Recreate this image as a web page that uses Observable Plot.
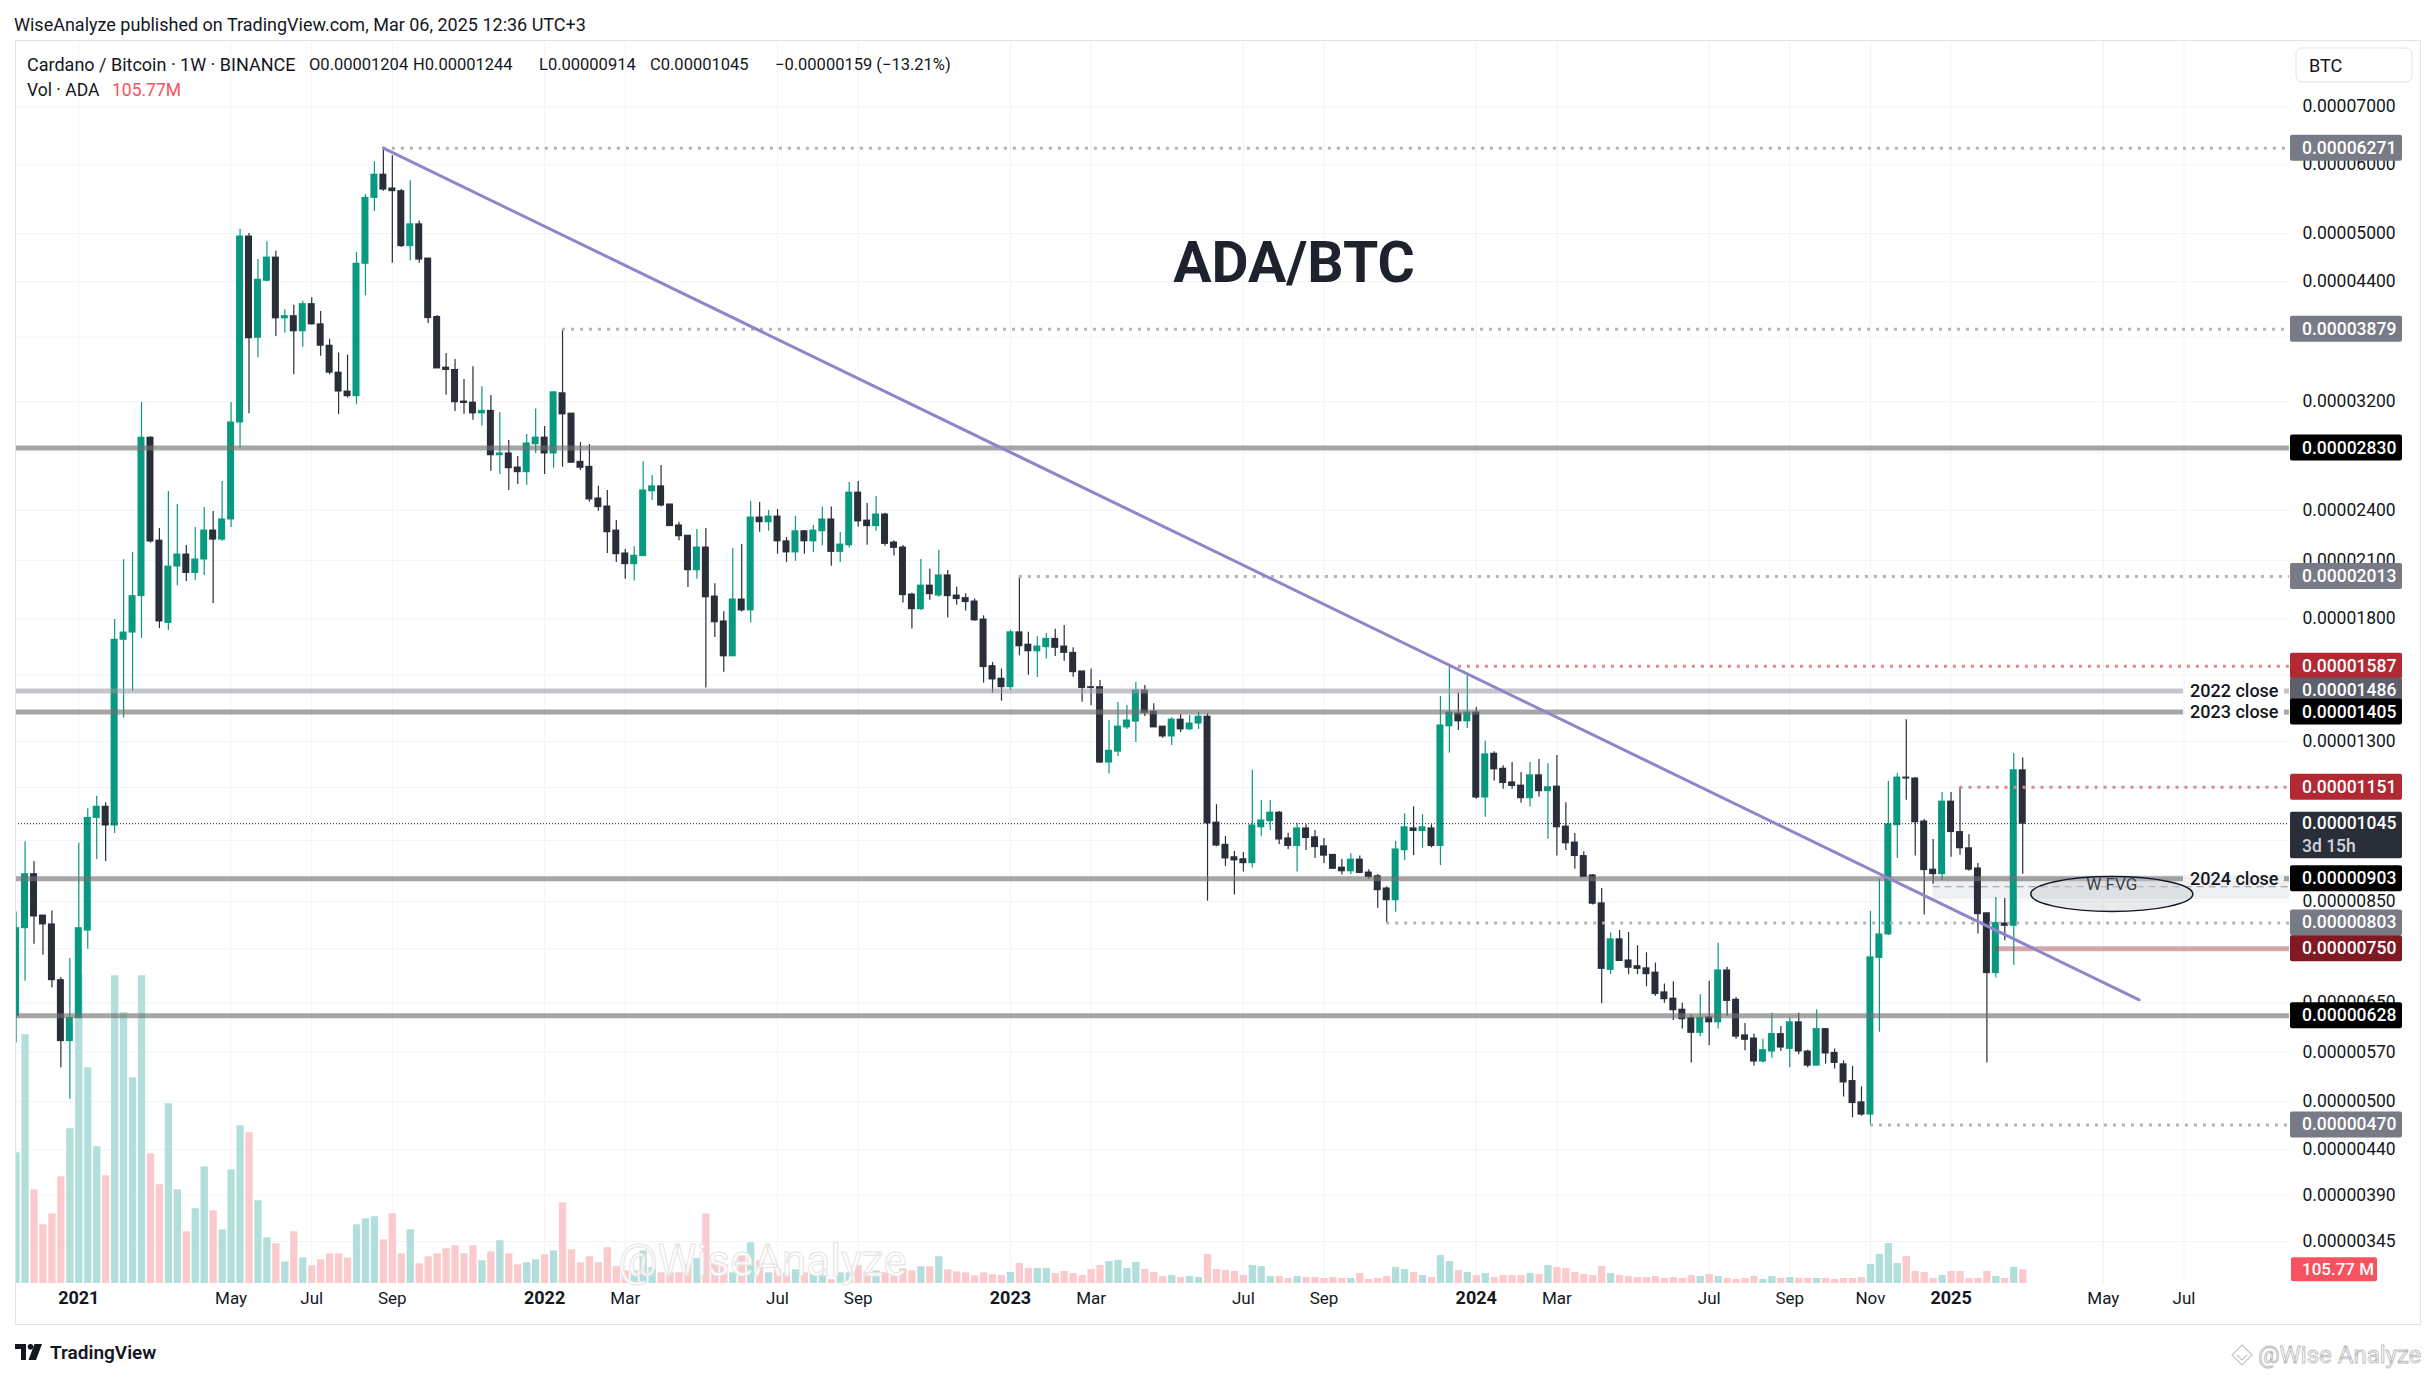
<!DOCTYPE html>
<html>
<head>
<meta charset="utf-8">
<script src="https://cdn.jsdelivr.net/npm/d3@7"></script>
<script src="https://cdn.jsdelivr.net/npm/@observablehq/plot@0.6"></script>
<style>
html,body{margin:0;padding:0;background:#fff;}
body{width:2433px;height:1378px;position:relative;overflow:hidden;font-family:Roboto,"Noto Sans",sans-serif;color:#131722;}
#wrap{position:absolute;left:0;top:0;width:2433px;height:1378px;}
#wrap svg{position:absolute;left:0;top:0;}
</style>
</head>
<body>
<div id="wrap"></div>
<script>
// ---------------- DATA (prices in satoshis, 1e-8 BTC; volume in millions ADA) ----------------
const firstWeek = "2020-11-16"; // Monday of the first weekly bar
const open = [627,792,914,819,800,690,587,624,787,1061,
1093,1040,1702,1735,1911,2909,2214,1780,2067,2134,
2032,2106,2274,2220,2342,3029,4961,3792,4411,4691,
3993,4016,3858,4146,3930,3713,3457,3288,3248,4615,
5496,5845,5635,5595,4836,5124,4679,4007,3503,3482,
3202,3193,3103,3124,2777,2790,2688,2655,2859,2910,
2790,3273,3101,2729,2693,2476,2424,2274,2140,2080,
2125,2524,2557,2437,2305,2243,2047,2174,1909,1787,
1629,1894,1840,2354,2325,2360,2210,2146,2270,2210,
2270,2342,2149,2187,2515,2335,2301,2373,2203,2174,
1919,1846,1965,1914,2019,1914,1901,1884,1796,1587,
1535,1501,1736,1680,1651,1669,1706,1672,1644,1565,
1501,1501,1229,1265,1349,1370,1488,1406,1352,1317,
1377,1342,1363,1388,1048,988,956,951,941,1035,
1052,1076,1005,985,1032,1008,984,962,930,921,
950,918,909,880,853,974,1032,1025,1032,985,
1353,1400,1371,1403,1120,1258,1209,1166,1156,1118,
1188,1139,1153,1037,994,959,911,846,709,769,
727,716,712,704,668,657,638,624,600,625,
617,708,655,596,591,556,571,598,575,617,
571,550,606,569,552,528,499,483,732,779,
1041,1181,1178,1051,925,914,1108,1022,979,928,
824,703,802,797,1204];
const high = [827,996,945,819,829,695,731,992,1087,1124,
1105,1796,2105,2146,3193,2917,2287,2522,2437,2186,
2293,2417,2392,2590,3193,5056,5002,4666,4894,4772,
4086,4134,4179,4218,4065,3777,3641,3622,4755,5547,
6048,6271,6147,5619,5753,5170,4679,4022,3638,3579,
3394,3512,3330,3253,3111,2887,2768,2934,3140,2997,
3288,3879,3101,2872,2857,2557,2529,2336,2163,2179,
2730,2632,2703,2437,2325,2243,2281,2287,1975,1833,
2168,2191,2457,2450,2398,2405,2233,2360,2274,2305,
2420,2420,2263,2583,2590,2443,2489,2381,2214,2186,
1926,2106,2052,2157,2046,1957,1923,1896,1814,1603,
1575,1745,2013,1736,1716,1731,1750,1768,1667,1565,
1575,1528,1374,1441,1430,1520,1508,1436,1352,1384,
1395,1392,1403,1399,1099,1010,971,968,1204,1111,
1111,1079,1019,1046,1042,1026,1005,962,950,965,
959,925,913,884,997,1073,1093,1070,1042,1464,
1587,1478,1555,1422,1300,1265,1219,1229,1197,1229,
1239,1225,1252,1105,1018,970,913,880,782,787,
783,756,742,722,683,687,649,629,664,688,
761,714,659,615,598,590,632,610,624,632,
573,638,607,575,557,549,520,828,901,1169,
1194,1377,1181,1057,1002,1135,1135,1150,1015,940,
824,859,857,1259,1244];
const low = [584,688,759,737,676,547,503,624,749,950,
945,1018,1383,1485,1709,2200,1754,1745,1965,1987,
1992,2019,1874,2209,2293,2831,3101,3597,4399,3806,
3837,3439,3699,3920,3612,3439,3093,3231,3176,4239,
5300,5595,4622,4818,4653,4622,3938,3496,3255,3119,
3095,3047,3000,2662,2639,2529,2570,2564,2790,2639,
2683,2690,2722,2667,2452,2394,2140,2090,1998,1989,
2125,2463,2420,2301,2214,1955,1998,1498,1712,1562,
1629,1832,1779,2264,2270,2136,2090,2096,2136,2146,
2184,2069,2090,2172,2295,2187,2270,2181,2125,1876,
1751,1840,1890,1906,1803,1865,1837,1788,1517,1478,
1446,1488,1631,1549,1540,1617,1628,1608,1541,1442,
1429,1226,1192,1249,1342,1296,1389,1349,1311,1286,
1331,1338,1342,851,983,933,865,919,929,1011,
1026,988,975,919,973,953,940,926,912,913,
915,902,835,803,826,948,960,979,980,935,
1260,1338,1345,1115,1063,1170,1145,1145,1103,1092,
1121,1003,959,973,926,907,842,648,700,726,
700,700,678,661,649,620,606,554,594,580,
606,627,590,572,549,554,561,571,547,566,
547,550,552,545,506,479,481,470,601,777,
953,1112,959,820,890,899,956,961,921,780,
554,694,766,718,914];
const close = [792,914,817,800,690,587,624,792,1061,1093,
1040,1702,1735,1911,2909,2209,1787,2067,2134,2032,
2106,2274,2220,2342,3029,4961,3787,4423,4691,3993,
4016,3858,4146,3930,3713,3457,3288,3248,4615,5496,
5845,5619,5595,4836,5124,4666,3996,3496,3482,3196,
3190,3103,3124,2777,2790,2683,2655,2865,2910,2790,
3281,3095,2722,2686,2470,2420,2264,2136,2080,2127,
2529,2557,2430,2301,2240,2047,2174,1905,1783,1629,
1894,1840,2354,2325,2360,2210,2146,2270,2210,2274,
2342,2149,2191,2515,2330,2301,2373,2195,2172,1916,
1846,1965,1921,2019,1911,1896,1881,1792,1583,1532,
1501,1736,1673,1651,1672,1706,1666,1644,1562,1498,
1498,1229,1268,1352,1374,1488,1402,1349,1317,1377,
1342,1363,1388,1046,986,953,948,941,1040,1054,
1076,1002,985,1032,1006,982,960,927,921,950,
917,907,876,853,976,1035,1025,1035,985,1356,
1403,1371,1403,1120,1256,1207,1164,1155,1118,1188,
1139,1151,1035,992,959,907,845,711,769,726,
713,711,701,665,656,637,622,600,624,617,
708,653,594,589,556,573,598,577,617,571,
550,606,568,554,526,498,483,733,779,1043,
1181,1178,1049,924,914,1108,1022,979,925,822,
703,803,797,1204,1045];
const volume = [1009,1920,723,453,538,823,1194,2383,1665,1055,
831,2375,2090,1588,2375,1001,762,1387,723,399,
577,901,561,415,878,1217,1163,638,353,306,
167,399,198,137,183,229,229,198,453,499,
515,337,538,229,415,152,206,229,268,291,
229,291,175,245,330,229,144,160,183,222,
252,623,260,160,206,160,276,129,98,98,
252,124,82,82,82,144,191,538,175,144,
82,214,314,175,82,106,82,106,82,67,
82,29,82,82,137,82,98,82,75,113,
98,129,129,206,106,90,82,59,82,67,
62,85,154,116,116,116,77,93,77,62,
108,139,170,178,116,162,108,85,54,62,
46,54,46,224,108,100,93,62,139,131,
54,54,39,54,46,46,39,46,39,39,
77,31,39,54,124,108,85,62,46,216,
170,100,85,62,77,46,62,62,62,77,
69,139,124,116,85,69,62,131,77,62,
54,46,46,54,39,46,39,62,54,69,
54,39,31,39,54,31,54,39,46,39,
39,39,39,31,39,39,46,147,224,309,
154,208,93,85,39,62,93,93,39,39,
93,54,39,124,105.77];

const gridTicks = [7000,6000,5000,4400,3800,3200,2800,2400,2100,1800,1550,1300,1150,1000,850,750,650,570,500,440,390,345];
const priceTickLabels = [7000,6000,5000,4400,3200,2400,2100,1800,1300,850,650,570,500,440,390,345];
const timeTicks = [["2021-01-04","2021"],["2021-05-03","May"],["2021-07-05","Jul"],["2021-09-06","Sep"],
["2022-01-03","2022"],["2022-03-07","Mar"],["2022-07-04","Jul"],["2022-09-05","Sep"],
["2023-01-02","2023"],["2023-03-06","Mar"],["2023-07-03","Jul"],["2023-09-04","Sep"],
["2024-01-01","2024"],["2024-03-04","Mar"],["2024-07-01","Jul"],["2024-09-02","Sep"],["2024-11-04","Nov"],
["2025-01-06","2025"],["2025-05-05","May"],["2025-07-07","Jul"]];

const levelValues = [6271,3879,2830,2013,1587,1486,1405,1151,1045,903,803,750,628,470];
const levelFrom = ["2021-08-30","2022-01-17",null,"2023-01-09","2023-12-11",null,null,"2025-01-13",null,null,"2023-10-23","2025-02-10",null,"2024-11-04"];
const closeLabels = {1486:"2022 close",1405:"2023 close",903:"2024 close"};
const trend = [{date:"2021-08-30", v:6271},{date:"2025-06-02", v:655}];
const fvg = {from:"2024-12-23", top:911, bottom:855, mid:884};
const fvgMark = {date:"2025-05-12", v:866, labelV:889, label:"W FVG"};
const lastVolume = 105.77;

// ---------------- BUILD ----------------
const WEEK = 7*864e5;
const bars = open.map((o,i)=>({date:new Date(Date.parse(firstWeek)+i*WEEK), o, h:high[i], l:low[i], c:close[i], v:volume[i]}));
const anchor = Date.parse("2021-01-04");
const xDomain = [new Date(anchor-7.066*WEEK), new Date(anchor+246.78*WEEK)];
const yDomain = [308.6, 8344];
const W=2433, H=1378, mL=15, mR=144, mT=40, mB=95;
const pxPerWeek = (W-mL-mR)/((xDomain[1]-xDomain[0])/WEEK);
const half = 3.5/pxPerWeek*WEEK;
const UP="#089981", DN="#2a2e39";
const isUp = d=>d.c>=d.o;
const FONT = "Roboto, 'Noto Sans', sans-serif";
const fmt = v=>(v/1e8).toFixed(8);
const end = ()=>xDomain[1];
const gapL = new Date(+xDomain[1]-(106/pxPerWeek)*WEEK);
const gapR = new Date(+xDomain[1]-(5/pxPerWeek)*WEEK);

const levels = levelValues.map((v,i)=>({v, from: levelFrom[i] ? new Date(levelFrom[i]) : xDomain[0]}));
const dottedGray = [6271,3879,2013,803,470];
const dottedRed = [1587,1151];
const solidGray = [2830,628];
const closeDark = [1405,903];

const base = {width:W,height:H,marginLeft:mL,marginRight:mR,marginTop:mT,marginBottom:mB,
  x:{type:"utc",domain:xDomain,axis:null}, color:{type:"identity"},
  style:{background:"transparent",fontFamily:FONT,fontSize:"16px",overflow:"visible"}};

const gridPlot = Plot.plot({...base, y:{type:"log",domain:yDomain,axis:null},
  marks:[
    Plot.ruleY(gridTicks,{y:d=>d, stroke:"#f0f3fa", strokeWidth:1}),
    Plot.ruleX(timeTicks,{x:d=>new Date(d[0]), stroke:"#f0f3fa", strokeWidth:1})
  ]});

const volPlot = Plot.plot({...base, y:{type:"linear",domain:[0,9596],axis:null},
  marks:[
    Plot.ruleX(bars,{x:"date", y1:()=>0, y2:"v", stroke:d=>isUp(d)?"#b2dfdb":"#facacd", strokeWidth:7.3, clip:true})
  ]});

const main = Plot.plot({...base, y:{type:"log",domain:yDomain,axis:null},
  marks:[
    Plot.rect([fvg],{x1:d=>new Date(d.from), x2:end, y1:"bottom", y2:"top", fill:"#eef0f1"}),
    Plot.ruleY([fvg],{y:"mid", x1:d=>new Date(d.from), x2:end, stroke:"#9598a1", strokeWidth:1, strokeDasharray:"7,5"}),
    Plot.ruleX(bars,{x:"date", y1:"l", y2:"h", stroke:d=>isUp(d)?UP:DN, strokeWidth:1.2, clip:true}),
    Plot.rect(bars,{x1:d=>new Date(+d.date-half), x2:d=>new Date(+d.date+half), y1:"o", y2:"c", fill:d=>isUp(d)?UP:DN, insetTop:-0.5, insetBottom:-0.5, clip:true}),
    Plot.ruleY(levels.filter(d=>dottedGray.includes(d.v)),{y:"v", x1:"from", x2:end, stroke:"#b2b5be", strokeWidth:3, strokeDasharray:"3,6"}),
    Plot.ruleY(levels.filter(d=>dottedRed.includes(d.v)),{y:"v", x1:"from", x2:end, stroke:"#dd878d", strokeWidth:3, strokeDasharray:"3,6"}),
    Plot.ruleY(levels.filter(d=>solidGray.includes(d.v)),{y:"v", stroke:"#6f6f6f", strokeOpacity:0.62, strokeWidth:5}),
    Plot.ruleY(levels.filter(d=>closeDark.includes(d.v)),{y:"v", x1:()=>xDomain[0], x2:()=>gapL, stroke:"#6f6f6f", strokeOpacity:0.62, strokeWidth:5}),
    Plot.ruleY(levels.filter(d=>closeDark.includes(d.v)),{y:"v", x1:()=>gapR, x2:end, stroke:"#6f6f6f", strokeOpacity:0.62, strokeWidth:5}),
    Plot.ruleY(levels.filter(d=>d.v===1486),{y:"v", x1:()=>xDomain[0], x2:()=>gapL, stroke:"#9598a1", strokeOpacity:0.55, strokeWidth:5}),
    Plot.ruleY(levels.filter(d=>d.v===1486),{y:"v", x1:()=>gapR, x2:end, stroke:"#9598a1", strokeOpacity:0.55, strokeWidth:5}),
    Plot.ruleY(levels.filter(d=>d.v===750),{y:"v", x1:"from", x2:end, stroke:"#a0323a", strokeOpacity:0.42, strokeWidth:5}),
    Plot.ruleY(levels.filter(d=>d.v===1045),{y:"v", stroke:"#131722", strokeWidth:1, strokeDasharray:"1,2"}),
    Plot.line(trend,{x:d=>new Date(d.date), y:"v", stroke:"#8f85c9", strokeWidth:3}),
    Plot.text(levels.filter(d=>closeLabels[d.v]),{y:"v", text:d=>closeLabels[d.v], frameAnchor:"right", dx:-11, textAnchor:"end", fontSize:18, fontWeight:500, fill:"#131722"}),
    Plot.text(priceTickLabels,{y:d=>d, text:fmt, frameAnchor:"right", dx:13, textAnchor:"start", fontSize:17.5, fill:"#131722"}),
    Plot.text(timeTicks.filter(d=>/^\d{4}$/.test(d[1])),{x:d=>new Date(d[0]), text:d=>d[1], frameAnchor:"bottom", dy:20, fontSize:18, fontWeight:"bold", fill:"#131722"}),
    Plot.text(timeTicks.filter(d=>!/^\d{4}$/.test(d[1])),{x:d=>new Date(d[0]), text:d=>d[1], frameAnchor:"bottom", dy:20, fontSize:17, fill:"#131722"})
  ]});

const wrap = document.getElementById("wrap");
wrap.appendChild(gridPlot);
wrap.appendChild(volPlot);
wrap.appendChild(main);

// ---------------- annotations using the plot scales ----------------
const xs = main.scale("x"), ys = main.scale("y"), vs = volPlot.scale("y");
const svg = d3.select(main);
const g = svg.append("g").attr("font-family",FONT).attr("font-size",16).attr("text-anchor","start");

// FVG ellipse
const ex = xs.apply(new Date(fvgMark.date)), ey = ys.apply(fvgMark.v);
g.append("ellipse").attr("cx",ex).attr("cy",ey).attr("rx",81).attr("ry",17.5)
  .attr("fill","rgba(200,203,208,0.42)").attr("stroke","#131722").attr("stroke-width",1.5);
g.append("text").attr("x",ex).attr("y",ys.apply(fvgMark.labelV)).attr("text-anchor","middle")
  .attr("dominant-baseline","central").attr("font-size",17).attr("fill","#3a3e4a").text(fvgMark.label);

// price labels
const boxFill = {6271:"#787b86",3879:"#787b86",2830:"#000000",2013:"#787b86",1587:"#b22833",1486:"#5d606b",1405:"#000000",1151:"#b22833",1045:"#2a2e39",903:"#000000",803:"#787b86",750:"#801922",628:"#000000",470:"#787b86"};
levelValues.forEach(v=>{
  const y = ys.apply(v);
  if (v===1045){
    g.append("rect").attr("x",2290).attr("y",y-11.5).attr("width",112).attr("height",46.5).attr("rx",2).attr("fill",boxFill[v]);
    g.append("text").attr("x",2302).attr("y",y).attr("dominant-baseline","central").attr("fill","#fff").attr("font-size",17.5).attr("font-weight",500).text(fmt(v));
    g.append("text").attr("x",2302).attr("y",y+23).attr("dominant-baseline","central").attr("fill","#d1d4dc").attr("font-size",17.5).attr("font-weight",500).text("3d 15h");
  } else {
    g.append("rect").attr("x",2290).attr("y",y-13).attr("width",112).attr("height",26).attr("rx",2).attr("fill",boxFill[v]);
    g.append("text").attr("x",2302).attr("y",y).attr("dominant-baseline","central").attr("fill","#fff").attr("font-size",17.5).attr("font-weight",500).text(fmt(v));
  }
});
// volume label
const vy = vs.apply(lastVolume);
g.append("rect").attr("x",2291).attr("y",vy-12).attr("width",86).attr("height",24).attr("rx",2).attr("fill","#f7525f");
g.append("text").attr("x",2302).attr("y",vy).attr("dominant-baseline","central").attr("fill","#fff").attr("font-size",17).attr("font-weight",500).text(lastVolume.toFixed(2)+" M");

// chrome: border, header, legend, title, currency box, logos
g.append("rect").attr("x",15.5).attr("y",40.5).attr("width",2405).attr("height",1284).attr("fill","none").attr("stroke","#e0e3eb");
const t = (x,y,s,o={})=>{const e=g.append("text").attr("x",x).attr("y",y).attr("dominant-baseline","central").attr("text-anchor",o.anchor||"start").attr("fill",o.fill||"#131722").attr("font-size",o.size||16).text(s); if(o.weight) e.attr("font-weight",o.weight); if(o.stroke){e.attr("stroke",o.stroke).attr("stroke-width",o.sw||1);} return e;};
t(14,24,"WiseAnalyze published on TradingView.com, Mar 06, 2025 12:36 UTC+3",{size:18});
t(27,64,"Cardano / Bitcoin · 1W · BINANCE",{size:18});
t(309,64,"O0.00001204",{size:16.5}); t(413,64,"H0.00001244",{size:16.5}); t(539,64,"L0.00000914",{size:16.5}); t(650,64,"C0.00001045",{size:16.5});
t(775,64,"−0.00000159 (−13.21%)",{size:16.5});
t(27,90,"Vol · ADA",{size:17.5}); t(112,90,"105.77M",{fill:"#f7525f",size:17.5});
t(1294,262,"ADA/BTC",{size:57,weight:"bold",anchor:"middle",fill:"#1e222d"});
g.append("rect").attr("x",2296).attr("y",48).attr("width",116).attr("height",34).attr("rx",6).attr("fill","#fff").attr("stroke","#e0e3eb");
t(2309,65.5,"BTC",{size:18});
// middle watermark
t(618,1261,"@WiseAnalyze",{size:44,fill:"rgba(255,255,255,0.9)",stroke:"#e4e4e4",sw:1});
// TradingView logo
const lg = g.append("g").attr("transform","translate(15,1344)").attr("fill","#131722");
lg.append("path").attr("d","M0 0H11V16H6V5H0Z");
lg.append("circle").attr("cx",15.5).attr("cy",2.8).attr("r",2.8);
lg.append("path").attr("d","M19.5 0H27L21 16H13.5Z");
t(50,1352,"TradingView",{size:19,weight:600});
// bottom-right watermark
const wm = g.append("g").attr("transform","translate(2232,1345)").attr("fill","none").attr("stroke","#c4c4c4").attr("stroke-width",1.2);
wm.append("path").attr("d","M10 0L20 10L10 20L0 10Z");
wm.append("path").attr("d","M5 10L10 15L15 10");
t(2258,1355,"@Wise Analyze",{size:24,fill:"#ffffff",stroke:"#bdbdbd",sw:0.9});
</script>
</body>
</html>
